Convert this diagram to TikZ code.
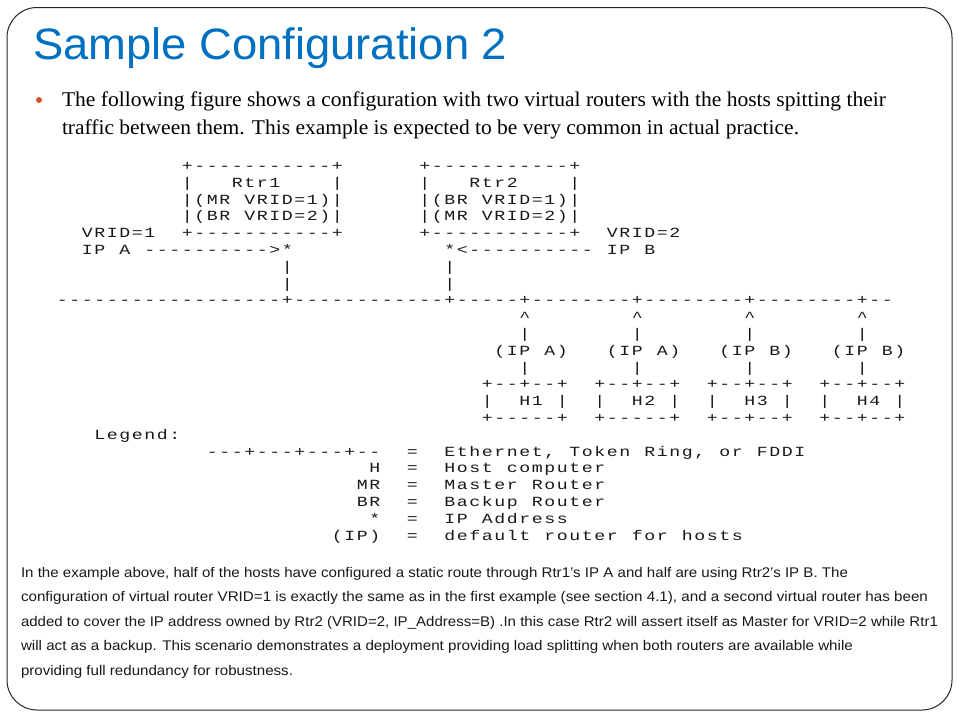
\documentclass[tikz,border=0pt]{standalone}
\usepackage{fontspec}
\usepackage{graphicx}
\setmainfont{Liberation Serif}
\newfontfamily\monof{Liberation Mono}
\newfontfamily\sansf{Liberation Sans}
\newfontfamily\seriff{Liberation Serif}
\definecolor{titleblue}{RGB}{0,112,192}
\definecolor{bulletorange}{RGB}{209,86,39}
\newlength\cw
\setlength\cw{12.5pt}
\def\spc{}
\def\cellrun#1{\ifx#1\relax\else\makebox[\cw][c]{\scalebox{1.3}[1]{#1}}\expandafter\cellrun\fi}
\newcommand\asc[4]{\node[ascii] (#1) at ({56+12.5*#2},{170.5+16.8*#3}) {\cellrun #4\relax};}
\newcommand\para[4]{\node[paraline] (#1) at (21,#2) {\resizebox{#3pt}{\height}{\sansf\fontsize{14}{14}\selectfont #4}};}
\tikzset{
  ascii/.style={anchor=base west, inner sep=0pt, outer sep=0pt, text=black!90, font=\monof\fontsize{14}{14}\selectfont},
  paraline/.style={anchor=base west, inner sep=0pt, outer sep=0pt, text=black!90},
  bulletline/.style={anchor=base west, inner sep=0pt, outer sep=0pt, text=black},
  frame/.style={draw=black!85, line width=1pt, rounded corners=30pt}
}
\begin{document}
\begin{tikzpicture}[x=1pt,y=-1pt]
\useasboundingbox (0,0) rectangle (960,720);
\fill[white] (0,0) rectangle (960,720);
\draw[frame] (7,7.5) rectangle (952,710);
% title
\node[anchor=base west, inner sep=0pt, text=titleblue] (title) at (33,59)
  {\resizebox{474pt}{\height}{\sansf\fontsize{44}{44}\selectfont Sample Configuration 2}};
% bullet
\node[circle, fill=bulletorange, minimum size=6pt, inner sep=0pt] (bullet) at (39,100) {};
\node[bulletline] (b1) at (62,106)
  {\resizebox{824pt}{\height}{\seriff\fontsize{21}{21}\selectfont The following figure shows a configuration with two virtual routers with the hosts spitting their}};
\node[bulletline] (b2) at (62,134)
  {\resizebox{737pt}{\height}{\seriff\fontsize{21}{21}\selectfont traffic between them. This example is expected to be very common in actual practice.}};
% ASCII diagram
\asc{r0a}{10}{0}{+-----------+}
\asc{r0b}{29}{0}{+-----------+}
\asc{r1a}{10}{1}{|}
\asc{rtr1}{14}{1}{Rtr1}
\asc{r1b}{22}{1}{|}
\asc{r1c}{29}{1}{|}
\asc{rtr2}{33}{1}{Rtr2}
\asc{r1d}{41}{1}{|}
\asc{r2a}{10}{2}{|(MR\spc VRID=1)|}
\asc{r2b}{29}{2}{|(BR\spc VRID=1)|}
\asc{r3a}{10}{3}{|(BR\spc VRID=2)|}
\asc{r3b}{29}{3}{|(MR\spc VRID=2)|}
\asc{r4a}{2}{4}{VRID=1}
\asc{r4b}{10}{4}{+-----------+}
\asc{r4c}{29}{4}{+-----------+}
\asc{r4d}{44}{4}{VRID=2}
\asc{r5a}{2}{5}{IP\spc A\spc ---------->*}
\asc{r5b}{31}{5}{*<----------\spc IP\spc B}
\asc{r6a}{18}{6}{|}
\asc{r6b}{31}{6}{|}
\asc{r7a}{18}{7}{|}
\asc{r7b}{31}{7}{|}
\asc{bus}{0}{8}{------------------+------------+-----+--------+--------+--------+--}
\asc{r9a}{37}{9}{\textasciicircum}
\asc{r9b}{46}{9}{\textasciicircum}
\asc{r9c}{55}{9}{\textasciicircum}
\asc{r9d}{64}{9}{\textasciicircum}
\asc{r10a}{37}{10}{|}
\asc{r10b}{46}{10}{|}
\asc{r10c}{55}{10}{|}
\asc{r10d}{64}{10}{|}
\asc{r11a}{35}{11}{(IP\spc A)}
\asc{r11b}{44}{11}{(IP\spc A)}
\asc{r11c}{53}{11}{(IP\spc B)}
\asc{r11d}{62}{11}{(IP\spc B)}
\asc{r12a}{37}{12}{|}
\asc{r12b}{46}{12}{|}
\asc{r12c}{55}{12}{|}
\asc{r12d}{64}{12}{|}
\asc{r13a}{34}{13}{+--+--+}
\asc{r13b}{43}{13}{+--+--+}
\asc{r13c}{52}{13}{+--+--+}
\asc{r13d}{61}{13}{+--+--+}
\asc{h1}{34}{14}{|\spc\spc H1\spc|}
\asc{h2}{43}{14}{|\spc\spc H2\spc|}
\asc{h3}{52}{14}{|\spc\spc H3\spc|}
\asc{h4}{61}{14}{|\spc\spc H4\spc|}
\asc{r15a}{34}{15}{+-----+}
\asc{r15b}{43}{15}{+-----+}
\asc{r15c}{52}{15}{+--+--+}
\asc{r15d}{61}{15}{+--+--+}
% legend
\asc{legend}{3}{16}{Legend:}
\asc{l1k}{12}{17}{---+---+---+--}
\asc{l1e}{28}{17}{=}
\asc{l1v}{31}{17}{Ethernet,\spc Token\spc Ring,\spc or\spc FDDI}
\asc{l2k}{25}{18}{H}
\asc{l2e}{28}{18}{=}
\asc{l2v}{31}{18}{Host\spc computer}
\asc{l3k}{24}{19}{MR}
\asc{l3e}{28}{19}{=}
\asc{l3v}{31}{19}{Master\spc Router}
\asc{l4k}{24}{20}{BR}
\asc{l4e}{28}{20}{=}
\asc{l4v}{31}{20}{Backup\spc Router}
\asc{l5k}{25}{21}{*}
\asc{l5e}{28}{21}{=}
\asc{l5v}{31}{21}{IP\spc Address}
\asc{l6k}{22}{22}{(IP)}
\asc{l6e}{28}{22}{=}
\asc{l6v}{31}{22}{default\spc router\spc for\spc hosts}
% paragraph
\para{p1}{577}{827}{In the example above, half of the hosts have configured a static route through Rtr1’s IP A and half are using Rtr2’s IP B. The}
\para{p2}{601.5}{907}{configuration of virtual router VRID=1 is exactly the same as in the first example (see section 4.1), and a second virtual router has been}
\para{p3}{626}{917}{added to cover the IP address owned by Rtr2 (VRID=2, IP\_Address=B) .In this case Rtr2 will assert itself as Master for VRID=2 while Rtr1}
\para{p4}{650.5}{832}{will act as a backup. This scenario demonstrates a deployment providing load splitting when both routers are available while}
\para{p5}{675}{272}{providing full redundancy for robustness.}
\end{tikzpicture}
\end{document}
